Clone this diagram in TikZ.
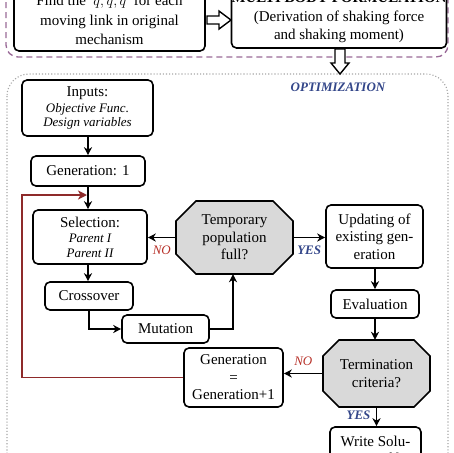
\documentclass[tikz,border=0pt]{standalone}
\usepackage{fontspec}
\setmainfont{Liberation Serif}
\usetikzlibrary{arrows.meta,calc}
\definecolor{noRed}{HTML}{B8322A}
\definecolor{yesBlue}{HTML}{34478A}
\definecolor{fbRed}{HTML}{8E2A2A}
\definecolor{octGray}{HTML}{D9D9D9}
\definecolor{dashPurple}{HTML}{9A6A98}
\newcommand{\myoct}[7]{%
  \draw[octbox] ({#2-#4/2+#6},{#3-#5/2}) -- ({#2+#4/2-#6},{#3-#5/2}) -- ({#2+#4/2},{#3-#5/2+#6}) -- ({#2+#4/2},{#3+#5/2-#6}) -- ({#2+#4/2-#6},{#3+#5/2}) -- ({#2-#4/2+#6},{#3+#5/2}) -- ({#2-#4/2},{#3+#5/2-#6}) -- ({#2-#4/2},{#3-#5/2+#6}) -- cycle;
  \node[octtext, minimum width=#4, minimum height=#5] (#1) at (#2,#3) {#7};}
\tikzset{
  box/.style={draw, line width=1.6pt, rounded corners=5pt, align=center, inner sep=0pt,
    font=\fontsize{15}{17.5}\selectfont},
  octbox/.style={draw, line width=1.6pt, fill=octGray},
  octtext/.style={inner sep=0pt, align=center, font=\fontsize{15}{17.5}\selectfont},
  conn/.style={line width=1.5pt, -{Stealth[length=8pt,width=8pt,inset=2.5pt]}},
  fb/.style={line width=1.5pt, draw=fbRed, -{Stealth[length=9pt,width=9pt,inset=2.5pt]}},
  lblno/.style={text=noRed, font=\fontsize{13}{13}\selectfont\itshape},
  lblyes/.style={text=yesBlue, font=\fontsize{13}{13}\selectfont\bfseries\itshape},
  hollow/.style={draw, line width=1.4pt, fill=white, line join=miter}
}
\begin{document}
\begin{tikzpicture}[x=1pt,y=-1pt]
\useasboundingbox[fill=white] (0,0) rectangle (453,453);
% containers
\draw[dashPurple, line width=1.3pt, dash pattern=on 6pt off 4pt, rounded corners=12pt] (6,-40) rectangle (448,57);
\draw[gray!70, line width=1.1pt, dotted, rounded corners=22pt] (7,74) rectangle (448,490);
\node[lblyes] (opt) at (338,87) {OPTIMIZATION};
% top boxes
\node[box, minimum width=191, minimum height=62, font=\fontsize{15}{19.5}\selectfont] (find) at (109.5,20) {Find the \ $q,\dot q,\ddot q$ \ for each\\moving link in original\\mechanism};
\node[box, minimum width=208, minimum height=60, font=\fontsize{15}{18.5}\selectfont] (mbf) at (339,18) {\textbf{MULTI BODY FORMULATION}\\(Derivation of shaking force\\and shaking moment)};
% hollow arrows
\draw[hollow] (207,16) -- (219,16) -- (219,11) -- (231,20) -- (219,29) -- (219,24) -- (207,24) -- cycle;
\draw[hollow] (335,49) -- (345,49) -- (345,63) -- (349,63) -- (340,74) -- (331,63) -- (335,63) -- cycle;
% optimization boxes
\node[box, minimum width=131, minimum height=56] (inp) at (87.5,108) {Inputs:\\[-2pt]{\itshape\fontsize{13}{15}\selectfont Objective Func.}\\[-3pt]{\itshape\fontsize{13}{15}\selectfont Design variables}};
\node[box, minimum width=114, minimum height=30] (gen1) at (88,171) {Generation: 1};
\node[box, minimum width=114, minimum height=54] (sel) at (90,237) {Selection:\\[-2pt]{\itshape\fontsize{13}{15}\selectfont Parent I}\\[-3pt]{\itshape\fontsize{13}{15}\selectfont Parent II}};
\node[box, minimum width=88, minimum height=28] (cross) at (89,296) {Crossover};
\node[box, minimum width=87, minimum height=28] (mut) at (165.5,329) {Mutation};
\myoct{temp}{234.5}{237.5}{117}{73}{20}{Temporary\\population\\full?}
\node[box, minimum width=97, minimum height=63] (upd) at (374.5,236.5) {Updating of\\existing gen-\\eration};
\node[box, minimum width=88, minimum height=28] (eval) at (375,304) {Evaluation};
\myoct{term}{376.5}{373.5}{107}{67}{16}{Termination\\criteria?}
\node[box, minimum width=99, minimum height=59] (genp) at (233.5,377.5) {Generation\\=\\Generation+1};
\node[box, minimum width=91, minimum height=46, text depth=0pt] (write) at (375.5,450) {Write Solu-\\tion to file};
% connectors
\coordinate (fbtip) at (87,195);
\coordinate (fbcorner) at (22,377.5);
\draw[conn] (inp.south -| gen1) -- (gen1.north);
\draw[conn] (gen1.south) -- (gen1.south |- sel.north);
\draw[conn] (sel.south -| gen1) -- (gen1.south |- cross.north);
\draw[conn] (cross.south) |- (mut.west);
\draw[conn] (mut.east) -| ([xshift=-1.5pt]temp.south);
\draw[conn] (temp.west) -- (sel.east |- temp.west) node[lblno, pos=0.5, below=4pt] {NO};
\draw[conn] (temp.east) -- (upd.west |- temp.east) node[lblyes, pos=0.5, below=4pt] {YES};
\draw[conn] (upd.south -| eval) -- (eval.north);
\draw[conn] (eval.south) -- (eval.south |- term.north);
\draw[conn] (term.west) -- (genp.east |- term.west) node[lblno, pos=0.5, above=4pt] {NO};
\draw[conn] (term.south) -- (term.south |- write.north) node[lblyes, pos=0.45, left=2pt] {YES};
\draw[fb] (genp.west) -- (genp.west -| fbcorner) |- (fbtip);
\end{tikzpicture}
\end{document}
